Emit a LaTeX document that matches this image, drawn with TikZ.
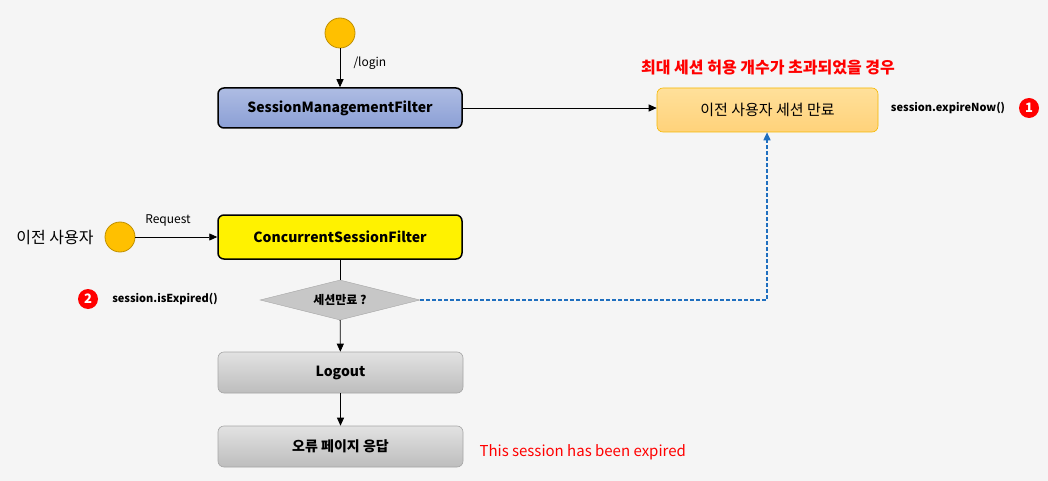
\documentclass[tikz,border=0pt]{standalone}
\usepackage{fontspec}
\setmainfont{Noto Sans CJK KR}
\usetikzlibrary{shapes.geometric,arrows.meta}
\definecolor{bg}{HTML}{F5F5F5}
\definecolor{gold}{HTML}{FFC000}
\definecolor{goldd}{HTML}{C09000}
\definecolor{blueA}{HTML}{AEBCE3}
\definecolor{blueB}{HTML}{8B9FD5}
\definecolor{orA}{HTML}{FFE09A}
\definecolor{orB}{HTML}{FFD27A}
\definecolor{orD}{HTML}{F5B800}
\definecolor{grA}{HTML}{E2E2E2}
\definecolor{grB}{HTML}{BDBDBD}
\definecolor{grD}{HTML}{A6A6A6}
\definecolor{dashblue}{HTML}{1F6FBF}
\definecolor{redt}{HTML}{FF0000}
\begin{document}
\begin{tikzpicture}[x=1pt,y=-1pt,
  startpt/.style={circle,draw=goldd,fill=gold,minimum size=30pt,inner sep=0pt,line width=0.8pt},
  bluebox/.style={draw=black,line width=1.5pt,rounded corners=6pt,top color=blueA,bottom color=blueB,minimum width=244pt,minimum height=40pt,font=\bfseries\fontsize{14}{16}\selectfont},
  yelbox/.style={draw=black,line width=1.5pt,rounded corners=6pt,fill=yellow,minimum width=244pt,minimum height=44pt,font=\bfseries\fontsize{14}{16}\selectfont},
  orbox/.style={draw=orD,line width=0.6pt,rounded corners=6pt,top color=orA,bottom color=orB,minimum width=221pt,minimum height=44pt,font=\fontsize{15}{17}\selectfont},
  graybox/.style={draw=grD,line width=0.6pt,rounded corners=6pt,top color=grA,bottom color=grB,minimum width=245pt,minimum height=41pt,font=\bfseries\fontsize{14}{16}\selectfont},
  badge/.style={circle,fill=redt,text=white,minimum size=20pt,inner sep=0pt,font=\bfseries\fontsize{13}{13}\selectfont},
  small/.style={font=\bfseries\fontsize{11}{12}\selectfont},
  arr/.style={-{Triangle[length=8pt,width=7pt]},line width=0.8pt}]
\fill[bg] (0,0) rectangle (1048,481);
\useasboundingbox (0,0) rectangle (1048,481);
\node[startpt] (s1) at (340,33) {};
\node[bluebox] (smf) at (340,108) {SessionManagementFilter};
\node[font=\fontsize{12}{13}\selectfont,anchor=west] (login) at (350,63) {/login};
\node[orbox] (exp) at (767.5,110) {이전 사용자 세션 만료};
\node[text=redt,font=\bfseries\fontsize{16}{18}\selectfont] (title) at (768,68) {최대 세션 허용 개수가 초과되었을 경우};
\node[small] (en) at (948,108) {session.expireNow()};
\node[badge] (b1) at (1029,108) {1};
\node[startpt] (s2) at (120,237) {};
\node[font=\fontsize{16}{18}\selectfont] (prev) at (55,238) {이전 사용자};
\node[font=\fontsize{12}{13}\selectfont] (req) at (168,220) {Request};
\node[yelbox] (csf) at (340,237) {ConcurrentSessionFilter};
\node[diamond,draw=grD,fill=grB!85,minimum width=160pt,minimum height=40pt,inner sep=0pt,aspect=4,font=\bfseries\fontsize{12}{13}\selectfont] (dia) at (340,300) {세션만료 ?};
\node[badge] (b2) at (88,299) {2};
\node[small] (ie) at (165,299) {session.isExpired()};
\node[graybox] (lo) at (340.5,372.5) {Logout};
\node[graybox] (err) at (340.5,446.5) {오류 페이지 응답};
\node[text=redt,font=\fontsize{15}{17}\selectfont,anchor=west] (msg) at (476,452) {This session has been expired};
\coordinate (corner) at (767,300);
\draw[arr] (s1) -- (smf);
\draw[arr] (smf.east) -- (smf.east -| exp.west);
\draw[arr] (s2) -- (csf);
\draw[line width=0.8pt] (csf) -- (dia);
\draw[arr] (dia) -- (lo);
\draw[arr] (lo) -- (err);
\draw[dashblue,dash pattern=on 4pt off 2pt,line width=1.5pt,-{Triangle[length=8pt,width=7pt]}] (dia.east) -- (corner) -- (exp.south -| corner);
\end{tikzpicture}
\end{document}
